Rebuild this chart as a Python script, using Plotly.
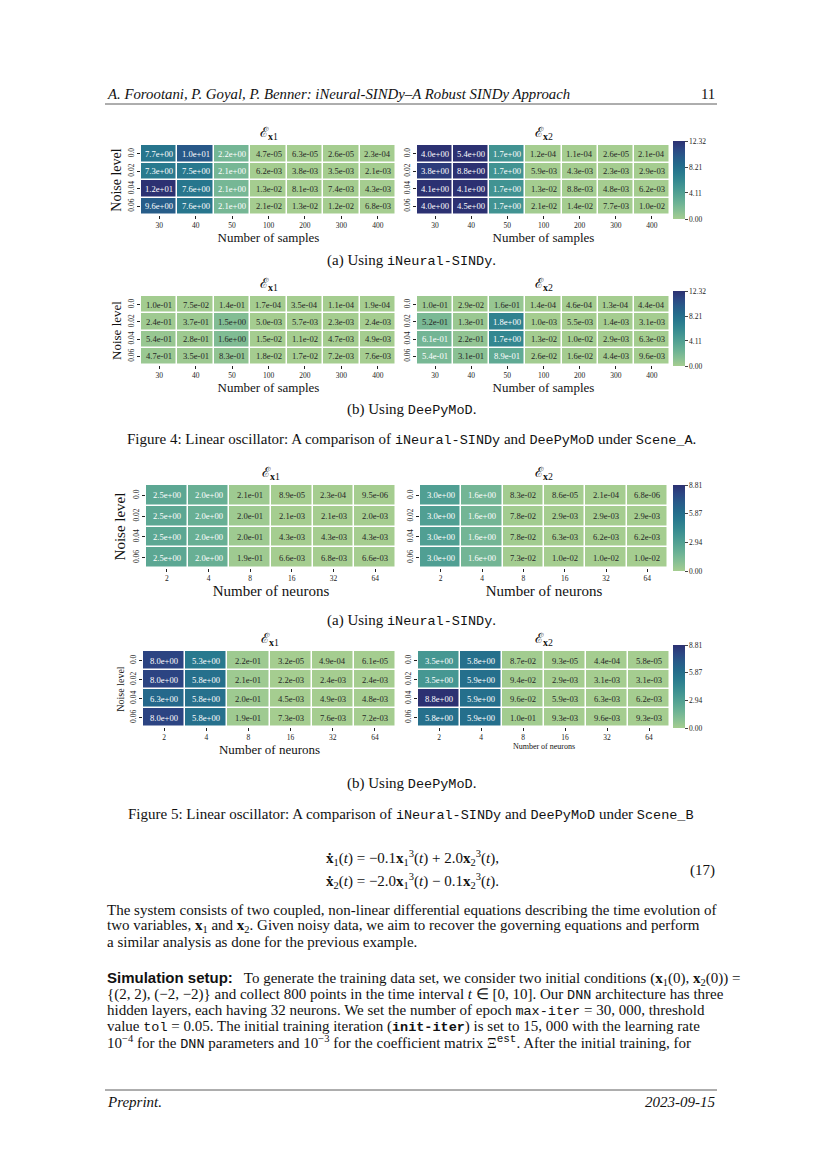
import plotly.graph_objects as go

W, H = 827, 1169
SERIF = "Liberation Serif"
MONO = "Liberation Mono"

# ---------------- data ----------------
samples = ["30", "40", "50", "100", "200", "300", "400"]
neurons = ["2", "4", "8", "16", "32", "64"]
noise = ["0.0", "0.02", "0.04", "0.06"]

ineural_A_x1 = [
    [7.7, 10.0, 2.2, 4.7e-05, 6.3e-05, 2.6e-05, 2.3e-04],
    [7.3, 7.5, 2.1, 6.2e-03, 3.8e-03, 3.5e-03, 2.1e-03],
    [12.32, 7.6, 2.1, 1.3e-02, 8.1e-03, 7.4e-03, 4.3e-03],
    [9.6, 7.6, 2.1, 2.1e-02, 1.3e-02, 1.2e-02, 6.8e-03],
]
ineural_A_x2 = [
    [4.0, 5.4, 1.7, 1.2e-04, 1.1e-04, 2.6e-05, 2.1e-04],
    [3.8, 8.8, 1.7, 5.9e-03, 4.3e-03, 2.3e-03, 2.9e-03],
    [4.1, 4.1, 1.7, 1.3e-02, 8.8e-03, 4.8e-03, 6.2e-03],
    [4.0, 4.5, 1.7, 2.1e-02, 1.4e-02, 7.7e-03, 1.0e-02],
]
deepymod_A_x1 = [
    [1.0e-01, 7.5e-02, 1.4e-01, 1.7e-04, 3.5e-04, 1.1e-04, 1.9e-04],
    [2.4e-01, 3.7e-01, 1.5, 5.0e-03, 5.7e-03, 2.3e-03, 2.4e-03],
    [5.4e-01, 2.8e-01, 1.6, 1.5e-02, 1.1e-02, 4.7e-03, 4.9e-03],
    [4.7e-01, 3.5e-01, 8.3e-01, 1.8e-02, 1.7e-02, 7.2e-03, 7.6e-03],
]
deepymod_A_x2 = [
    [1.0e-01, 2.9e-02, 1.6e-01, 1.4e-04, 4.6e-04, 1.3e-04, 4.4e-04],
    [5.2e-01, 1.3e-01, 1.8, 1.0e-03, 5.5e-03, 1.4e-03, 3.1e-03],
    [6.1e-01, 2.2e-01, 1.7, 1.3e-02, 1.0e-02, 2.9e-03, 6.3e-03],
    [5.4e-01, 3.1e-01, 8.9e-01, 2.6e-02, 1.6e-02, 4.4e-03, 9.6e-03],
]
ineural_B_x1 = [
    [2.5, 2.0, 2.1e-01, 8.9e-05, 2.3e-04, 9.5e-06],
    [2.5, 2.0, 2.0e-01, 2.1e-03, 2.1e-03, 2.0e-03],
    [2.5, 2.0, 2.0e-01, 4.3e-03, 4.3e-03, 4.3e-03],
    [2.5, 2.0, 1.9e-01, 6.6e-03, 6.8e-03, 6.6e-03],
]
ineural_B_x2 = [
    [3.0, 1.6, 8.3e-02, 8.6e-05, 2.1e-04, 6.8e-06],
    [3.0, 1.6, 7.8e-02, 2.9e-03, 2.9e-03, 2.9e-03],
    [3.0, 1.6, 7.8e-02, 6.3e-03, 6.2e-03, 6.2e-03],
    [3.0, 1.6, 7.3e-02, 1.0e-02, 1.0e-02, 1.0e-02],
]
deepymod_B_x1 = [
    [8.0, 5.3, 2.2e-01, 3.2e-05, 4.9e-04, 6.1e-05],
    [8.0, 5.8, 2.1e-01, 2.2e-03, 2.4e-03, 2.4e-03],
    [6.3, 5.8, 2.0e-01, 4.5e-03, 4.9e-03, 4.8e-03],
    [8.0, 5.8, 1.9e-01, 7.3e-03, 7.6e-03, 7.2e-03],
]
deepymod_B_x2 = [
    [3.5, 5.8, 8.7e-02, 9.3e-05, 4.4e-04, 5.8e-05],
    [3.5, 5.9, 9.4e-02, 2.9e-03, 3.1e-03, 3.1e-03],
    [8.81, 5.9, 9.6e-02, 5.9e-03, 6.3e-03, 6.2e-03],
    [5.8, 5.9, 1.0e-01, 9.3e-03, 9.6e-03, 9.3e-03],
]

cbar_A_ticks = [0.00, 4.11, 8.21, 12.32]
cbar_A_labels = ["0.00", "4.11", "8.21", "12.32"]
cbar_B_ticks = [0.00, 2.94, 5.87, 8.81]
cbar_B_labels = ["0.00", "2.94", "5.87", "8.81"]

# ---------------- colour map (seaborn "crest"-like) ----------------
crest = [
    (0.0, "#a5cd90"), (0.1, "#88c094"), (0.2, "#6eb395"), (0.3, "#58a593"),
    (0.4, "#459792"), (0.5, "#348890"), (0.6, "#28798e"), (0.7, "#246a8b"),
    (0.8, "#285a89"), (0.9, "#2c4683"), (1.0, "#2c3172"),
]


def hex2rgb(h):
    h = h.lstrip("#")
    return [int(h[i:i + 2], 16) for i in (0, 2, 4)]


def cmap(t):
    t = max(0.0, min(1.0, t))
    for (t0, c0), (t1, c1) in zip(crest[:-1], crest[1:]):
        if t <= t1:
            f = (t - t0) / (t1 - t0) if t1 > t0 else 0
            a, b = hex2rgb(c0), hex2rgb(c1)
            return [a[k] + (b[k] - a[k]) * f for k in range(3)]
    return hex2rgb(crest[-1][1])


def text_color(v, vmax):
    rgb = [c / 255 for c in cmap(v / vmax)]
    lin = [c / 12.92 if c <= 0.03928 else ((c + 0.055) / 1.055) ** 2.4 for c in rgb]
    lum = 0.2126 * lin[0] + 0.7152 * lin[1] + 0.0722 * lin[2]
    return "#262626" if lum > 0.408 else "white"


# ---------------- panels (layout in page pixels) ----------------
panels = [
    dict(z=ineural_A_x1, x=samples, ca=1, vmax=12.32, px=(133, 388), py=(137, 207), sub="1",
         xt="Number of samples", xts=13, yt="Noise level", yts=14),
    dict(z=ineural_A_x2, x=samples, ca=3, vmax=4.0, px=(409, 662), py=(137, 207), sub="2",
         xt="Number of samples", xts=13, yt=None, yts=0),
    dict(z=deepymod_A_x1, x=samples, ca=2, vmax=12.32, px=(133, 388), py=(288, 357), sub="1",
         xt="Number of samples", xts=13, yt="Noise level", yts=13),
    dict(z=deepymod_A_x2, x=samples, ca=4, vmax=3.35, px=(409, 662), py=(288, 357), sub="2",
         xt="Number of samples", xts=13, yt=None, yts=0),
    dict(z=ineural_B_x1, x=neurons, ca=5, vmax=8.81, px=(138, 388), py=(477, 560), sub="1",
         xt="Number of neurons", xts=15, yt="Noise level", yts=15),
    dict(z=ineural_B_x2, x=neurons, ca=5, vmax=8.81, px=(412, 660), py=(477, 560), sub="2",
         xt="Number of neurons", xts=15, yt=None, yts=0),
    dict(z=deepymod_B_x1, x=neurons, ca=6, vmax=8.81, px=(135, 388), py=(643, 719), sub="1",
         xt="Number of neurons", xts=13, yt="Noise level", yts=10),
    dict(z=deepymod_B_x2, x=neurons, ca=6, vmax=8.81, px=(410, 662), py=(643, 719), sub="2",
         xt="Number of neurons", xts=8, yt=None, yts=0),
]

colorbars = {
    1: dict(vmax=12.32, top=133, bottom=211, ticks=cbar_A_ticks, labels=cbar_A_labels, show=True),
    2: dict(vmax=12.32, top=283, bottom=358, ticks=cbar_A_ticks, labels=cbar_A_labels, show=True),
    3: dict(vmax=4.0, show=False),
    4: dict(vmax=3.35, show=False),
    5: dict(vmax=8.81, top=477, bottom=563, ticks=cbar_B_ticks, labels=cbar_B_labels, show=True),
    6: dict(vmax=8.81, top=637, bottom=720, ticks=cbar_B_ticks, labels=cbar_B_labels, show=True),
}

fig = go.Figure()
layout = dict(width=W, height=H, margin=dict(l=0, r=0, t=0, b=0),
              paper_bgcolor="white", plot_bgcolor="white", showlegend=False,
              font=dict(family=SERIF, color="#111"))
annotations = []
shapes = []

for k, cb in colorbars.items():
    name = "coloraxis" if k == 1 else f"coloraxis{k}"
    ca = dict(colorscale=[[t, c] for t, c in crest], cmin=0, cmax=cb["vmax"], showscale=cb["show"])
    if cb["show"]:
        ca["colorbar"] = dict(
            x=665 / W, xanchor="left", xref="paper", y=1 - cb["top"] / H, yanchor="top",
            lenmode="pixels", len=cb["bottom"] - cb["top"], thickness=12, xpad=0, ypad=0,
            outlinewidth=0, ticks="outside", ticklen=3, tickwidth=0.8,
            tickvals=cb["ticks"], ticktext=cb["labels"],
            tickfont=dict(size=7.5, family=SERIF, color="#222"))
    layout[name] = ca

for i, p in enumerate(panels, start=1):
    xa = "xaxis" if i == 1 else f"xaxis{i}"
    ya = "yaxis" if i == 1 else f"yaxis{i}"
    xr = "x" if i == 1 else f"x{i}"
    yr = "y" if i == 1 else f"y{i}"
    ca = "coloraxis" if p["ca"] == 1 else f"coloraxis{p['ca']}"
    xs = list(range(len(p["x"])))
    ys = list(range(len(noise)))
    fig.add_trace(go.Heatmap(z=p["z"], x=xs, y=ys, coloraxis=ca, xgap=1.5, ygap=1.5,
                             xaxis=xr, yaxis=yr, hoverinfo="skip"))
    layout[xa] = dict(domain=[p["px"][0] / W, p["px"][1] / W], anchor=yr,
                      range=[-0.5, len(xs) - 0.5], tickmode="array", tickvals=xs, ticktext=p["x"],
                      ticks="outside", ticklen=3, tickwidth=0.8, tickcolor="#222",
                      showgrid=False, zeroline=False, showline=False,
                      tickfont=dict(size=7.5, family=SERIF, color="#222"),
                      title=dict(text=p["xt"], font=dict(size=p["xts"], family=SERIF, color="#111"),
                                 standoff=2))
    layout[ya] = dict(domain=[1 - p["py"][1] / H, 1 - p["py"][0] / H], anchor=xr,
                      range=[len(ys) - 0.5, -0.5], tickmode="array", tickvals=ys, ticktext=noise,
                      ticks="outside", ticklen=3, tickwidth=0.8,
                      tickcolor="#222", tickangle=-90, showgrid=False, zeroline=False,
                      showline=False, tickfont=dict(size=7.5, family=SERIF, color="#222"))
    if p["yt"]:
        layout[ya]["title"] = dict(text=p["yt"], font=dict(size=p["yts"], family=SERIF, color="#111"),
                                   standoff=2)
    # cell annotations
    for r in ys:
        for c in xs:
            v = p["z"][r][c]
            annotations.append(dict(xref=xr, yref=yr, x=c, y=r, text=f"{v:.1e}", showarrow=False,
                                    font=dict(size=8.6, family=SERIF, color=text_color(v, p["vmax"]))))
    # title
    annotations.append(dict(xref=f"{xr} domain", yref=f"{yr} domain", x=0.5, y=1, yanchor="bottom",
                            yshift=1, showarrow=False,
                            text=f"ℰ<sub><b>x</b>{p['sub']}</sub>",
                            font=dict(size=14, family=SERIF, color="#111")))

BODY = 15
MSIZE = 13.5


def mono(s, size=MSIZE):
    return f"<span style='font-family:{MONO};font-size:{size}px'>{s}</span>"


def txt(x, y, s, size=BODY, anchor="left", family=SERIF):
    annotations.append(dict(xref="paper", yref="paper", x=x / W, y=1 - y / H, text=s, showarrow=False,
                            xanchor=anchor, yanchor="middle", font=dict(size=size, family=family,
                                                                      color="#111")))


# header / footer
txt(97, 86, "<i>A. Forootani, P. Goyal, P. Benner: iNeural-SINDy–A Robust SINDy Approach</i>", size=14.8)
txt(709, 86, "11", anchor="right", size=14.8)
shapes.append(dict(type="line", xref="paper", yref="paper", x0=97 / W, x1=709 / W,
                   y0=1 - 96 / H, y1=1 - 96 / H, line=dict(color="#333", width=0.8)))

# captions
txt(403, 252, f"(a) Using {mono('iNeural-SINDy')}.", anchor="center")
txt(403, 401, f"(b) Using {mono('DeePyMoD')}.", anchor="center")
txt(403, 431, f"Figure 4: Linear oscillator: A comparison of {mono('iNeural-SINDy')} and "
              f"{mono('DeePyMoD')} under {mono('Scene_A')}.", anchor="center")
txt(403, 612, f"(a) Using {mono('iNeural-SINDy')}.", anchor="center")
txt(403, 775, f"(b) Using {mono('DeePyMoD')}.", anchor="center")
txt(403, 806, f"Figure 5: Linear oscillator: A comparison of {mono('iNeural-SINDy')} and "
              f"{mono('DeePyMoD')} under {mono('Scene_B')}", anchor="center")

# equation
txt(316, 850, "<b>ẋ</b><sub>1</sub>(<i>t</i>) = −0.1<b>x</b><sub>1</sub><sup>3</sup>(<i>t</i>) + "
              "2.0<b>x</b><sub>2</sub><sup>3</sup>(<i>t</i>),")
txt(316, 873, "<b>ẋ</b><sub>2</sub>(<i>t</i>) = −2.0<b>x</b><sub>1</sub><sup>3</sup>(<i>t</i>) − "
              "0.1<b>x</b><sub>2</sub><sup>3</sup>(<i>t</i>).")
txt(709, 862, "(17)", anchor="right")

# paragraph
para = [
    "The system consists of two coupled, non-linear differential equations describing the time evolution of",
    "two variables, <b>x</b><sub>1</sub> and <b>x</b><sub>2</sub>. Given noisy data, we aim to recover "
    "the governing equations and perform",
    "a similar analysis as done for the previous example.",
]
for j, line in enumerate(para):
    txt(97, 902 + 16 * j, line)

sim = [
    "<span style='font-family:Liberation Sans'><b>Simulation setup:</b></span>   To generate the training "
    "data set, we consider two initial conditions (<b>x</b><sub>1</sub>(0), <b>x</b><sub>2</sub>(0)) =",
    f"{{(2, 2), (−2, −2)}} and collect 800 points in the time interval <i>t</i> ∈ [0, 10]. Our {mono('DNN')} "
    "architecture has three",
    f"hidden layers, each having 32 neurons. We set the number of epoch {mono('max-iter')} = 30, 000, threshold",
    f"value {mono('tol')} = 0.05. The initial training iteration ({mono('<b>init-iter</b>')}) is set to "
    "15, 000 with the learning rate",
    f"10<sup>−4</sup> for the {mono('DNN')} parameters and 10<sup>−3</sup> for the coefficient matrix "
    f"Ξ<sup>{mono('est', 11)}</sup>. After the initial training, for",
]
for j, line in enumerate(sim):
    txt(97, 970 + 16 * j, line)

shapes.append(dict(type="line", xref="paper", yref="paper", x0=97 / W, x1=709 / W,
                   y0=1 - 1082 / H, y1=1 - 1082 / H, line=dict(color="#333", width=0.8)))
txt(97, 1094, "<i>Preprint.</i>")
txt(709, 1094, "<i>2023-09-15</i>", anchor="right")

layout["annotations"] = annotations
layout["shapes"] = shapes
fig.update_layout(**layout)
fig.write_html("out.html")
